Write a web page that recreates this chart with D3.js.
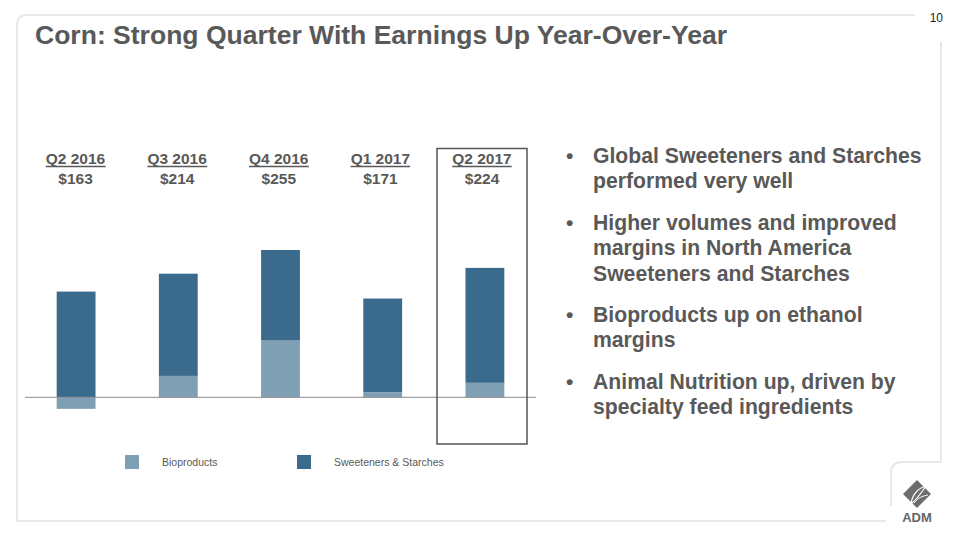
<!DOCTYPE html>
<html>
<head>
<meta charset="utf-8">
<script src="https://cdn.jsdelivr.net/npm/d3@7"></script>
<style>
  body { margin: 0; background: #fff; }
  svg { display: block; font-family: "Liberation Sans", Arial, sans-serif; }
</style>
</head>
<body>
<div id="slide"></div>
<script>
const quarters = ["Q2 2016", "Q3 2016", "Q4 2016", "Q1 2017", "Q2 2017"];
const totals = ["$163", "$214", "$255", "$171", "$224"];
const bioproducts = [-20, 37, 98, 9, 25];
const sweeteners = [183, 177, 157, 162, 199];
const seriesNames = ["Bioproducts", "Sweeteners & Starches"];
const bullets = [
  ["Global Sweeteners and Starches", "performed very well"],
  ["Higher volumes and improved", "margins in North America", "Sweeteners and Starches"],
  ["Bioproducts up on ethanol", "margins"],
  ["Animal Nutrition up, driven by", "specialty feed ingredients"]
];

const width = 958, height = 537;
const textColor = "#595959";
const colour = d3.scaleOrdinal().domain(seriesNames).range(["#7f9fb5", "#3b6b8c"]);

const svg = d3.select("#slide").append("svg")
    .attr("width", width)
    .attr("height", height);

// slide frame
svg.append("path")
    .attr("d", "M915,15 H27 Q17,15 17,25 V521 H886 M941,42 V462 H902 Q891,462 891,473 V506")
    .attr("fill", "none")
    .attr("stroke", "#e8e8e8")
    .attr("stroke-width", 2);

svg.append("text")
    .attr("x", 35).attr("y", 44)
    .attr("font-size", 26).attr("font-weight", "bold")
    .attr("fill", textColor)
    .attr("textLength", 692).attr("lengthAdjust", "spacingAndGlyphs")
    .text("Corn: Strong Quarter With Earnings Up Year-Over-Year");

svg.append("text")
    .attr("x", 943).attr("y", 22)
    .attr("text-anchor", "end")
    .attr("font-size", 12).attr("fill", "#222")
    .text("10");

// chart
const x = d3.scaleBand().domain(quarters).range([25, 536]).paddingInner(0.62).paddingOuter(0.31);
const xLabel = d3.scalePoint().domain(quarters).range([75.5, 482]);
const y = d3.scaleLinear().domain([0, 255]).range([397.3, 250]);

const stacked = quarters.map((q, i) => ({ q, bio: bioproducts[i], sw: sweeteners[i] }));

const chart = svg.append("g");

chart.selectAll(".sw")
    .data(stacked)
    .join("rect")
    .attr("x", d => x(d.q))
    .attr("width", x.bandwidth())
    .attr("y", d => y(Math.max(0, d.bio) + d.sw))
    .attr("height", d => y(Math.max(0, d.bio)) - y(Math.max(0, d.bio) + d.sw))
    .attr("fill", colour("Sweeteners & Starches"));

chart.selectAll(".bio")
    .data(stacked)
    .join("rect")
    .attr("x", d => x(d.q))
    .attr("width", x.bandwidth())
    .attr("y", d => y(Math.max(0, d.bio)))
    .attr("height", d => Math.abs(y(d.bio) - y(0)))
    .attr("fill", colour("Bioproducts"));

chart.append("line")
    .attr("x1", 25).attr("x2", 536)
    .attr("y1", y(0)).attr("y2", y(0))
    .attr("stroke", "#8a8a8a").attr("stroke-width", 1);

// quarter headers
const heads = chart.selectAll(".head")
    .data(quarters)
    .join("g")
    .attr("transform", d => `translate(${xLabel(d)},0)`);

heads.append("text")
    .attr("y", 164)
    .attr("text-anchor", "middle")
    .attr("font-size", 15.5).attr("font-weight", "bold")
    .attr("fill", textColor)
    .text(d => d)
    .each(function() {
        const b = this.getBBox();
        d3.select(this.parentNode).append("line")
            .attr("x1", b.x).attr("x2", b.x + b.width)
            .attr("y1", 166.5).attr("y2", 166.5)
            .attr("stroke", textColor).attr("stroke-width", 1.3);
    });

heads.append("text")
    .attr("y", 184)
    .attr("text-anchor", "middle")
    .attr("font-size", 15.5).attr("font-weight", "bold")
    .attr("fill", textColor)
    .text((d, i) => totals[i]);

// highlight current quarter
chart.append("rect")
    .attr("x", 437).attr("y", 148.5)
    .attr("width", 90).attr("height", 295.5)
    .attr("fill", "none")
    .attr("stroke", "#555").attr("stroke-width", 1.5);

// legend
const legend = svg.selectAll(".legend")
    .data(seriesNames)
    .join("g")
    .attr("transform", (d, i) => `translate(${[125, 297][i]},455)`);

legend.append("rect")
    .attr("width", 14).attr("height", 14)
    .attr("fill", d => colour(d));

legend.append("text")
    .attr("x", 37).attr("y", 10.5)
    .attr("font-size", 10.5)
    .attr("fill", textColor)
    .text(d => d);

// bullets
const bulletTops = [163, 230, 322, 389];
const bl = svg.selectAll(".bullet")
    .data(bullets)
    .join("g")
    .attr("transform", (d, i) => `translate(0,${bulletTops[i]})`);

bl.append("text")
    .attr("x", 566).attr("y", 0)
    .attr("font-size", 21).attr("font-weight", "bold")
    .attr("fill", textColor)
    .text("•");

bl.selectAll("text.line")
    .data(d => d)
    .join("text")
    .attr("class", "line")
    .attr("x", 593).attr("y", (d, i) => i * 25.3)
    .attr("font-size", 21.2).attr("font-weight", "bold")
    .attr("fill", textColor)
    .text(d => d);

// ADM logo
const logo = svg.append("g").attr("transform", "translate(917,494)");
logo.append("path")
    .attr("d", "M0,-14 L14,0 L0,14 L-14,0 Z")
    .attr("fill", "#6d6d6d");
logo.append("path")
    .attr("d", "M-6,10 C-5,1 1,-6 9,-8 C5,-2 1,4 -6,10 Z")
    .attr("fill", "none").attr("stroke", "#fff").attr("stroke-width", 1.2);
logo.append("path")
    .attr("d", "M-3,9 C1,4 5,2 11,1")
    .attr("fill", "none").attr("stroke", "#fff").attr("stroke-width", 1);
logo.append("text")
    .attr("y", 28).attr("text-anchor", "middle")
    .attr("font-size", 13).attr("font-weight", "bold")
    .attr("fill", "#666")
    .text("ADM");
</script>
</body>
</html>
